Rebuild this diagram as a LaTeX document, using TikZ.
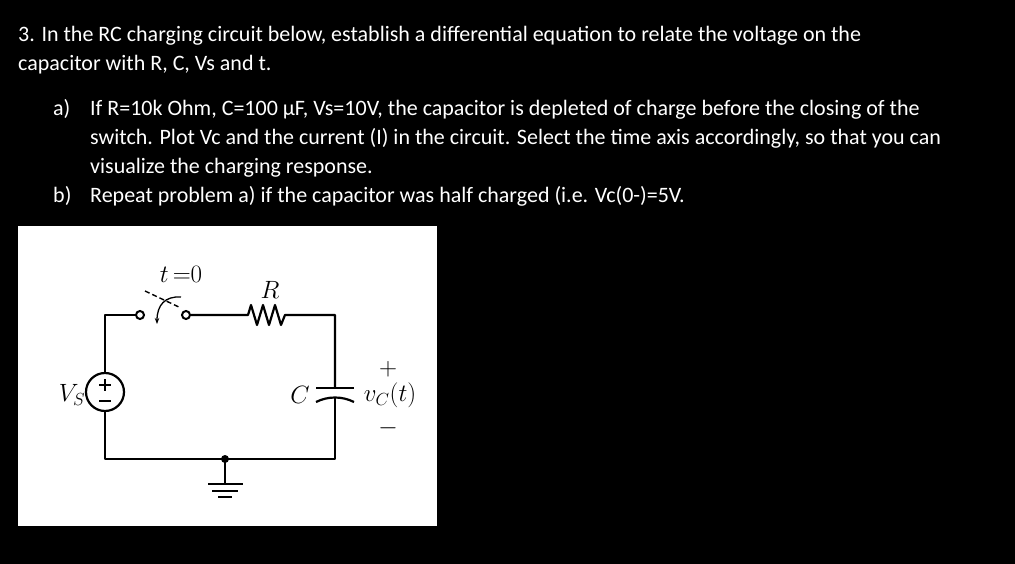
\documentclass[tikz,border=0pt]{standalone}
\usepackage{fix-cm}
\usepackage{fontspec}
\newfontfamily\calfont{Carlito}
\usetikzlibrary{arrows.meta}
\begin{document}
\begin{tikzpicture}[x=1pt,y=-1pt,
  txt/.style={anchor=base west,text=white,font=\calfont\fontsize{22}{24}\selectfont,inner sep=0},
  lbl/.style={font=\fontsize{25}{28}\selectfont,inner sep=0},
  wire/.style={line width=2.2pt,line join=round}]
\fill[black] (0,0) rectangle (1015,564);
\useasboundingbox (0,0) rectangle (1015,564);
\fill[white] (18,226) rectangle (437,526);
\node[txt] (l1) at (18,42) {3. In the RC charging circuit below, establish a differential equation to relate the voltage on the};
\node[txt] (l2) at (18,71) {capacitor with R, C, Vs and t.};
\node[txt] (a) at (53,116) {a)};
\node[txt] (a1) at (90,116) {If R=10k Ohm, C=100 µF, Vs=10V, the capacitor is depleted of charge before the closing of the};
\node[txt] (a2) at (90,145) {switch. Plot Vc and the current (I) in the circuit. Select the time axis accordingly, so that you can};
\node[txt] (a3) at (90,174) {visualize the charging response.};
\node[txt] (b) at (53,203) {b)};
\node[txt] (b1) at (90,203) {Repeat problem a) if the capacitor was half charged (i.e. Vc(0-)=5V.};
% circuit
\node[circle,draw,line width=2.2pt,minimum size=38pt,inner sep=0] (src) at (105,392) {};
\draw[line width=1.8pt] (99,385) -- (111,385) (105,379) -- (105,391);
\draw[line width=1.8pt] (99,401) -- (111,401);
\node[circle,draw,line width=2pt,minimum size=8pt,inner sep=0] (s1) at (140,315) {};
\node[circle,draw,line width=2pt,minimum size=8pt,inner sep=0] (s2) at (186,315) {};
\coordinate (tl) at (105,315); \coordinate (tr) at (335,315);
\coordinate (bl) at (105,459); \coordinate (br) at (335,459);
\coordinate (gnd) at (225,459);
\draw[wire] (src.north) -- (tl) -- (s1.west);
\draw[wire] (s2.east) -- (248,315) -- (251,305) -- (257,325) -- (263,305) -- (269,325) -- (275,305) -- (281,325) -- (285,315) -- (tr) -- (335,388);
\draw[wire] (316,388) -- (354,388);
\draw[wire] (316,402) .. controls (328,396) and (342,396) .. (354,402);
\draw[wire] (335,397) -- (br) -- (bl) -- (src.south);
\fill (gnd) circle (4pt);
\draw[wire] (gnd) -- (225,484);
\draw[wire] (208,484) -- (243,484) (212,491) -- (238,491) (218,497) -- (232,497);
\draw[line width=1.4pt,dash pattern=on 5pt off 3pt] (145,291) -- (181,308);
\draw[line width=1.3pt,-{Stealth[length=6pt]}] (181,297) .. controls (165,296) and (157,305) .. (157,324);
\node[lbl] at (181,274) {$t\,{=}0$};
\node[lbl] at (270,290) {$R$};
\node[lbl] at (72,395) {$V_S$};
\node[lbl] at (300,395) {$C$};
\node[lbl] at (388,369) {$+$};
\node[lbl] at (390,395) {$v_C(t)$};
\node[lbl] at (388,428) {$-$};
\end{tikzpicture}
\end{document}
